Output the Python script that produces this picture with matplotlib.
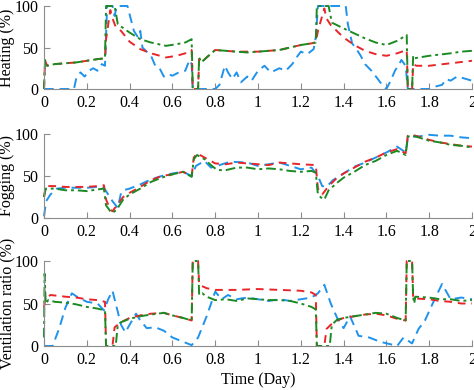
import matplotlib
matplotlib.use("Agg")
import matplotlib.pyplot as plt

plt.rcParams['font.family'] = ['Liberation Serif', 'DejaVu Serif']

# ---- Heating (%) ----
heat_green_t = [0, 0.005, 0.015, 0.05, 0.1, 0.15, 0.2, 0.25, 0.285, 0.29, 0.33, 0.345, 0.4, 0.45, 0.5, 0.57, 0.62,
                0.66, 0.69, 0.695, 0.72, 0.725, 0.735, 0.76, 0.8, 0.85, 0.9, 0.95, 1.0, 1.05, 1.1, 1.15, 1.2, 1.25,
                1.27, 1.275, 1.33, 1.345, 1.4, 1.45, 1.5, 1.55, 1.6, 1.65, 1.695, 1.70, 1.72, 1.725, 1.73, 1.8, 1.9,
                1.95, 2.0]
heat_green_v = [0, 35, 28, 30, 31, 32, 34, 36, 37, 100, 100, 78, 68, 60, 56, 52, 54,
                56, 60, 0, 0, 38, 32, 38, 47, 46, 45, 44, 45, 46, 47, 50, 53, 55,
                56, 100, 100, 80, 73, 67, 61, 56, 53, 58, 65, 0, 0, 40, 37, 40, 43,
                45, 46]

heat_red_t = [0, 0.005, 0.015, 0.05, 0.1, 0.15, 0.2, 0.25, 0.285, 0.29, 0.31, 0.32, 0.335, 0.36, 0.4, 0.45, 0.5,
              0.57, 0.62, 0.66, 0.69, 0.695, 0.72, 0.725, 0.735, 0.76, 0.8, 0.85, 0.9, 1.0, 1.1, 1.2, 1.25, 1.27,
              1.28, 1.31, 1.32, 1.34, 1.4, 1.45, 1.5, 1.55, 1.6, 1.65, 1.695, 1.70, 1.72, 1.725, 1.74, 1.8, 1.9, 2.0]
heat_red_v = [0, 34, 28, 30, 31, 32, 34, 36, 37, 60, 95, 85, 75, 70, 57, 48, 43,
              38, 40, 43, 47, 0, 0, 36, 32, 38, 47, 46, 45, 45, 47, 53, 55, 56,
              70, 97, 85, 77, 62, 53, 46, 42, 40, 43, 47, 0, 0, 30, 28, 28, 31, 34]

heat_blue_t = [0, 0.14, 0.15, 0.17, 0.19, 0.21, 0.23, 0.25, 0.27, 0.285, 0.295, 0.32, 0.33, 0.34, 0.39, 0.40, 0.42,
               0.44, 0.45, 0.46, 0.48, 0.5, 0.52, 0.54, 0.56, 0.58, 0.6, 0.63, 0.66, 0.68, 0.69, 0.695, 0.80, 0.82,
               0.845, 0.86, 0.88, 0.9, 0.92, 0.95, 0.97, 1.0, 1.03, 1.06, 1.1, 1.13, 1.16, 1.18, 1.2, 1.23, 1.26,
               1.27, 1.28, 1.41, 1.42, 1.44, 1.46, 1.48, 1.5, 1.53, 1.56, 1.58, 1.6, 1.62, 1.64, 1.66, 1.67, 1.69,
               1.70, 1.80, 1.83, 1.86, 1.88, 1.9, 1.93, 1.96, 2.0]
heat_blue_v = [0, 0, 12, 20, 15, 22, 25, 22, 30, 28, 100, 100, 88, 100, 100, 90, 70,
               62, 70, 50, 45, 40, 28, 25, 15, 18, 16, 20, 22, 35, 30, 0, 0, 5,
               28, 20, 12, 20, 8, 15, 10, 22, 28, 20, 25, 22, 30, 38, 45, 42, 48,
               62, 100, 100, 78, 55, 48, 40, 30, 22, 12, 5, 0, 10, 22, 30, 35, 28,
               0, 0, 3, 5, 12, 10, 15, 13, 10]

# ---- Fogging (%) ----
fog_red_t = [0, 0.008, 0.05, 0.1, 0.15, 0.2, 0.25, 0.28, 0.29, 0.31, 0.32, 0.34, 0.37, 0.4, 0.45, 0.5, 0.55, 0.6,
             0.65, 0.69, 0.70, 0.715, 0.75, 0.8, 0.85, 0.9, 0.95, 1.0, 1.05, 1.1, 1.15, 1.2, 1.27, 1.28, 1.30, 1.33,
             1.37, 1.4, 1.45, 1.5, 1.55, 1.6, 1.65, 1.69, 1.70, 1.72, 1.75, 1.8, 1.85, 1.9, 1.95, 2.0]
fog_red_v = [25, 38, 38, 37, 37, 37, 38, 39, 22, 10, 8, 15, 25, 30, 37, 45, 50, 52,
             55, 50, 72, 77, 72, 65, 64, 66, 65, 64, 63, 66, 65, 64, 63, 35, 28, 38,
             48, 53, 60, 67, 72, 78, 82, 77, 98, 99, 97, 93, 90, 88, 86, 85]

fog_green_t = [0, 0.008, 0.05, 0.1, 0.15, 0.2, 0.25, 0.28, 0.29, 0.31, 0.32, 0.34, 0.37, 0.4, 0.45, 0.5, 0.55, 0.6,
               0.65, 0.69, 0.70, 0.715, 0.75, 0.78, 0.81, 0.85, 0.9, 0.95, 1.0, 1.05, 1.1, 1.15, 1.2, 1.25, 1.27,
               1.28, 1.30, 1.31, 1.33, 1.37, 1.4, 1.45, 1.5, 1.55, 1.6, 1.65, 1.69, 1.70, 1.72, 1.75, 1.8, 1.85,
               1.9, 1.95, 2.0]
fog_green_v = [25, 35, 35, 33, 33, 32, 34, 35, 15, 8, 6, 10, 22, 28, 35, 43, 48, 52,
               55, 49, 70, 75, 70, 63, 57, 57, 60, 60, 58, 59, 58, 56, 55, 56, 54,
               28, 23, 22, 33, 42, 48, 55, 63, 68, 75, 80, 75, 97, 98, 96, 92, 90,
               87, 86, 84]

fog_blue_t = [0, 0.01, 0.03, 0.06, 0.1, 0.15, 0.2, 0.25, 0.28, 0.3, 0.32, 0.345, 0.36, 0.37, 0.4, 0.45, 0.5, 0.55,
              0.6, 0.65, 0.69, 0.71, 0.73, 0.75, 0.78, 0.82, 0.87, 0.95, 1.0, 1.05, 1.1, 1.15, 1.2, 1.25, 1.28, 1.30,
              1.32, 1.35, 1.4, 1.45, 1.5, 1.55, 1.6, 1.65, 1.69, 1.70, 1.72, 1.75, 1.8, 1.85, 1.9, 1.95, 2.0]
fog_blue_v = [2, 20, 28, 35, 36, 36, 36, 37, 36, 28, 20, 12, 30, 33, 35, 40, 46, 50,
              53, 55, 50, 62, 65, 68, 60, 63, 67, 66, 62, 64, 66, 62, 58, 60, 50, 38,
              37, 45, 53, 61, 66, 72, 78, 85, 78, 95, 97, 97, 99, 98, 98, 96, 95]

# ---- Ventilation ratio (%) ----
vent_green_t = [0, 0.003, 0.008, 0.02, 0.05, 0.1, 0.15, 0.2, 0.25, 0.285, 0.29, 0.335, 0.345, 0.36, 0.4, 0.45, 0.5,
                0.56, 0.6, 0.65, 0.69, 0.695, 0.72, 0.725, 0.74, 0.76, 0.8, 0.85, 0.9, 0.95, 1.0, 1.05, 1.1, 1.15,
                1.2, 1.25, 1.27, 1.275, 1.335, 1.345, 1.37, 1.4, 1.45, 1.5, 1.55, 1.6, 1.65, 1.69, 1.695, 1.72,
                1.725, 1.73, 1.735, 1.8, 1.85, 1.9, 1.95, 2.0]
vent_green_v = [10, 85, 50, 54, 52, 51, 49, 46, 44, 42, 0, 0, 25, 28, 32, 35, 37,
                39, 36, 33, 30, 100, 100, 60, 62, 58, 54, 55, 53, 56, 55, 54, 54, 53,
                50, 46, 43, 0, 0, 25, 31, 33, 35, 37, 39, 38, 33, 30, 100, 100,
                58, 50, 58, 57, 55, 55, 53, 54]

vent_red_t = [0, 0.005, 0.03, 0.1, 0.15, 0.2, 0.25, 0.285, 0.29, 0.32, 0.33, 0.36, 0.4, 0.45, 0.5, 0.56, 0.6, 0.65,
              0.69, 0.695, 0.72, 0.725, 0.76, 0.8, 0.9, 1.0, 1.1, 1.2, 1.25, 1.27, 1.275, 1.31, 1.32, 1.34, 1.37,
              1.4, 1.45, 1.5, 1.55, 1.6, 1.65, 1.69, 1.695, 1.72, 1.725, 1.8, 1.85, 1.9, 1.95, 2.0]
vent_red_v = [45, 55, 60, 58, 57, 55, 54, 52, 0, 0, 22, 28, 33, 36, 38, 39, 36, 33,
              30, 100, 100, 72, 68, 66, 66, 67, 66, 65, 63, 60, 0, 0, 20, 25, 30,
              33, 35, 37, 38, 36, 32, 30, 100, 100, 56, 55, 53, 52, 50, 50]

vent_blue_t = [0, 0.04, 0.07, 0.1, 0.13, 0.16, 0.2, 0.25, 0.28, 0.30, 0.32, 0.34, 0.36, 0.38, 0.4, 0.43, 0.45, 0.48,
               0.52, 0.56, 0.6, 0.65, 0.69, 0.72, 0.76, 0.8, 0.83, 0.86, 0.9, 0.95, 1.0, 1.05, 1.1, 1.15, 1.2, 1.25,
               1.28, 1.31, 1.34, 1.37, 1.40, 1.43, 1.47, 1.52, 1.57, 1.62, 1.65, 1.68, 1.72, 1.75, 1.78, 1.82, 1.86,
               1.9, 1.95, 2.0]
vent_blue_v = [0, 0, 20, 45, 62, 57, 52, 50, 42, 55, 65, 45, 25, 16, 25, 38, 30, 21,
               22, 18, 10, 5, 1, 10, 35, 64, 55, 60, 55, 57, 55, 53, 55, 53, 55, 57,
               62, 72, 50, 33, 21, 35, 12, 10, 5, 2, 0, 10, 3, 20, 30, 52, 73,
               55, 57, 55]

x_ticks = [0, 0.2, 0.4, 0.6, 0.8, 1, 1.2, 1.4, 1.6, 1.8, 2]
x_tick_labels = ['0', '0.2', '0.4', '0.6', '0.8', '1', '1.2', '1.4', '1.6', '1.8', '2']
y_ticks = [0, 50, 100]

blue = '#1f93ec'
red = '#e8262a'
green = '#1c8a22'

fig = plt.figure(figsize=(4.74, 3.90), dpi=100)
left, width = 44 / 474, 428 / 474
boxes = [(1 - 89 / 390, 83 / 390), (1 - 218 / 390, 84 / 390), (1 - 346 / 390, 85 / 390)]

panels = [
    ('Heating (%)', (heat_blue_t, heat_blue_v), (heat_red_t, heat_red_v), (heat_green_t, heat_green_v)),
    ('Fogging (%)', (fog_blue_t, fog_blue_v), (fog_red_t, fog_red_v), (fog_green_t, fog_green_v)),
    ('Ventilation ratio (%)', (vent_blue_t, vent_blue_v), (vent_red_t, vent_red_v), (vent_green_t, vent_green_v)),
]

for (bottom, height), (label, b, r, g) in zip(boxes, panels):
    ax = fig.add_axes([left, bottom, width, height])
    ax.plot(b[0], b[1], color=blue, linestyle='--', linewidth=1.4, dashes=(5, 3), clip_on=False)
    ax.plot(r[0], r[1], color=red, linestyle='--', linewidth=1.4, dashes=(4, 3), clip_on=False)
    ax.plot(g[0], g[1], color=green, linestyle='-.', linewidth=1.4, dashes=(5, 2, 1.5, 2), clip_on=False)
    ax.set_xlim(0, 2)
    ax.set_ylim(0, 100)
    ax.set_xticks(x_ticks)
    ax.set_xticklabels(x_tick_labels)
    ax.set_yticks(y_ticks)
    ax.set_ylabel(label, fontsize=11.5)
    ax.yaxis.set_label_coords(-0.068, 0.5)
    for s in ['top', 'right']:
        ax.spines[s].set_visible(False)
    for s in ['left', 'bottom']:
        ax.spines[s].set_color('#8c8c8c')
        ax.spines[s].set_linewidth(0.8)
    ax.tick_params(direction='in', length=4, color='#8c8c8c', labelsize=11.5, pad=4)

ax.set_xlabel('Time (Day)', fontsize=11.5, labelpad=3)

fig.savefig('out.png', dpi=100)
